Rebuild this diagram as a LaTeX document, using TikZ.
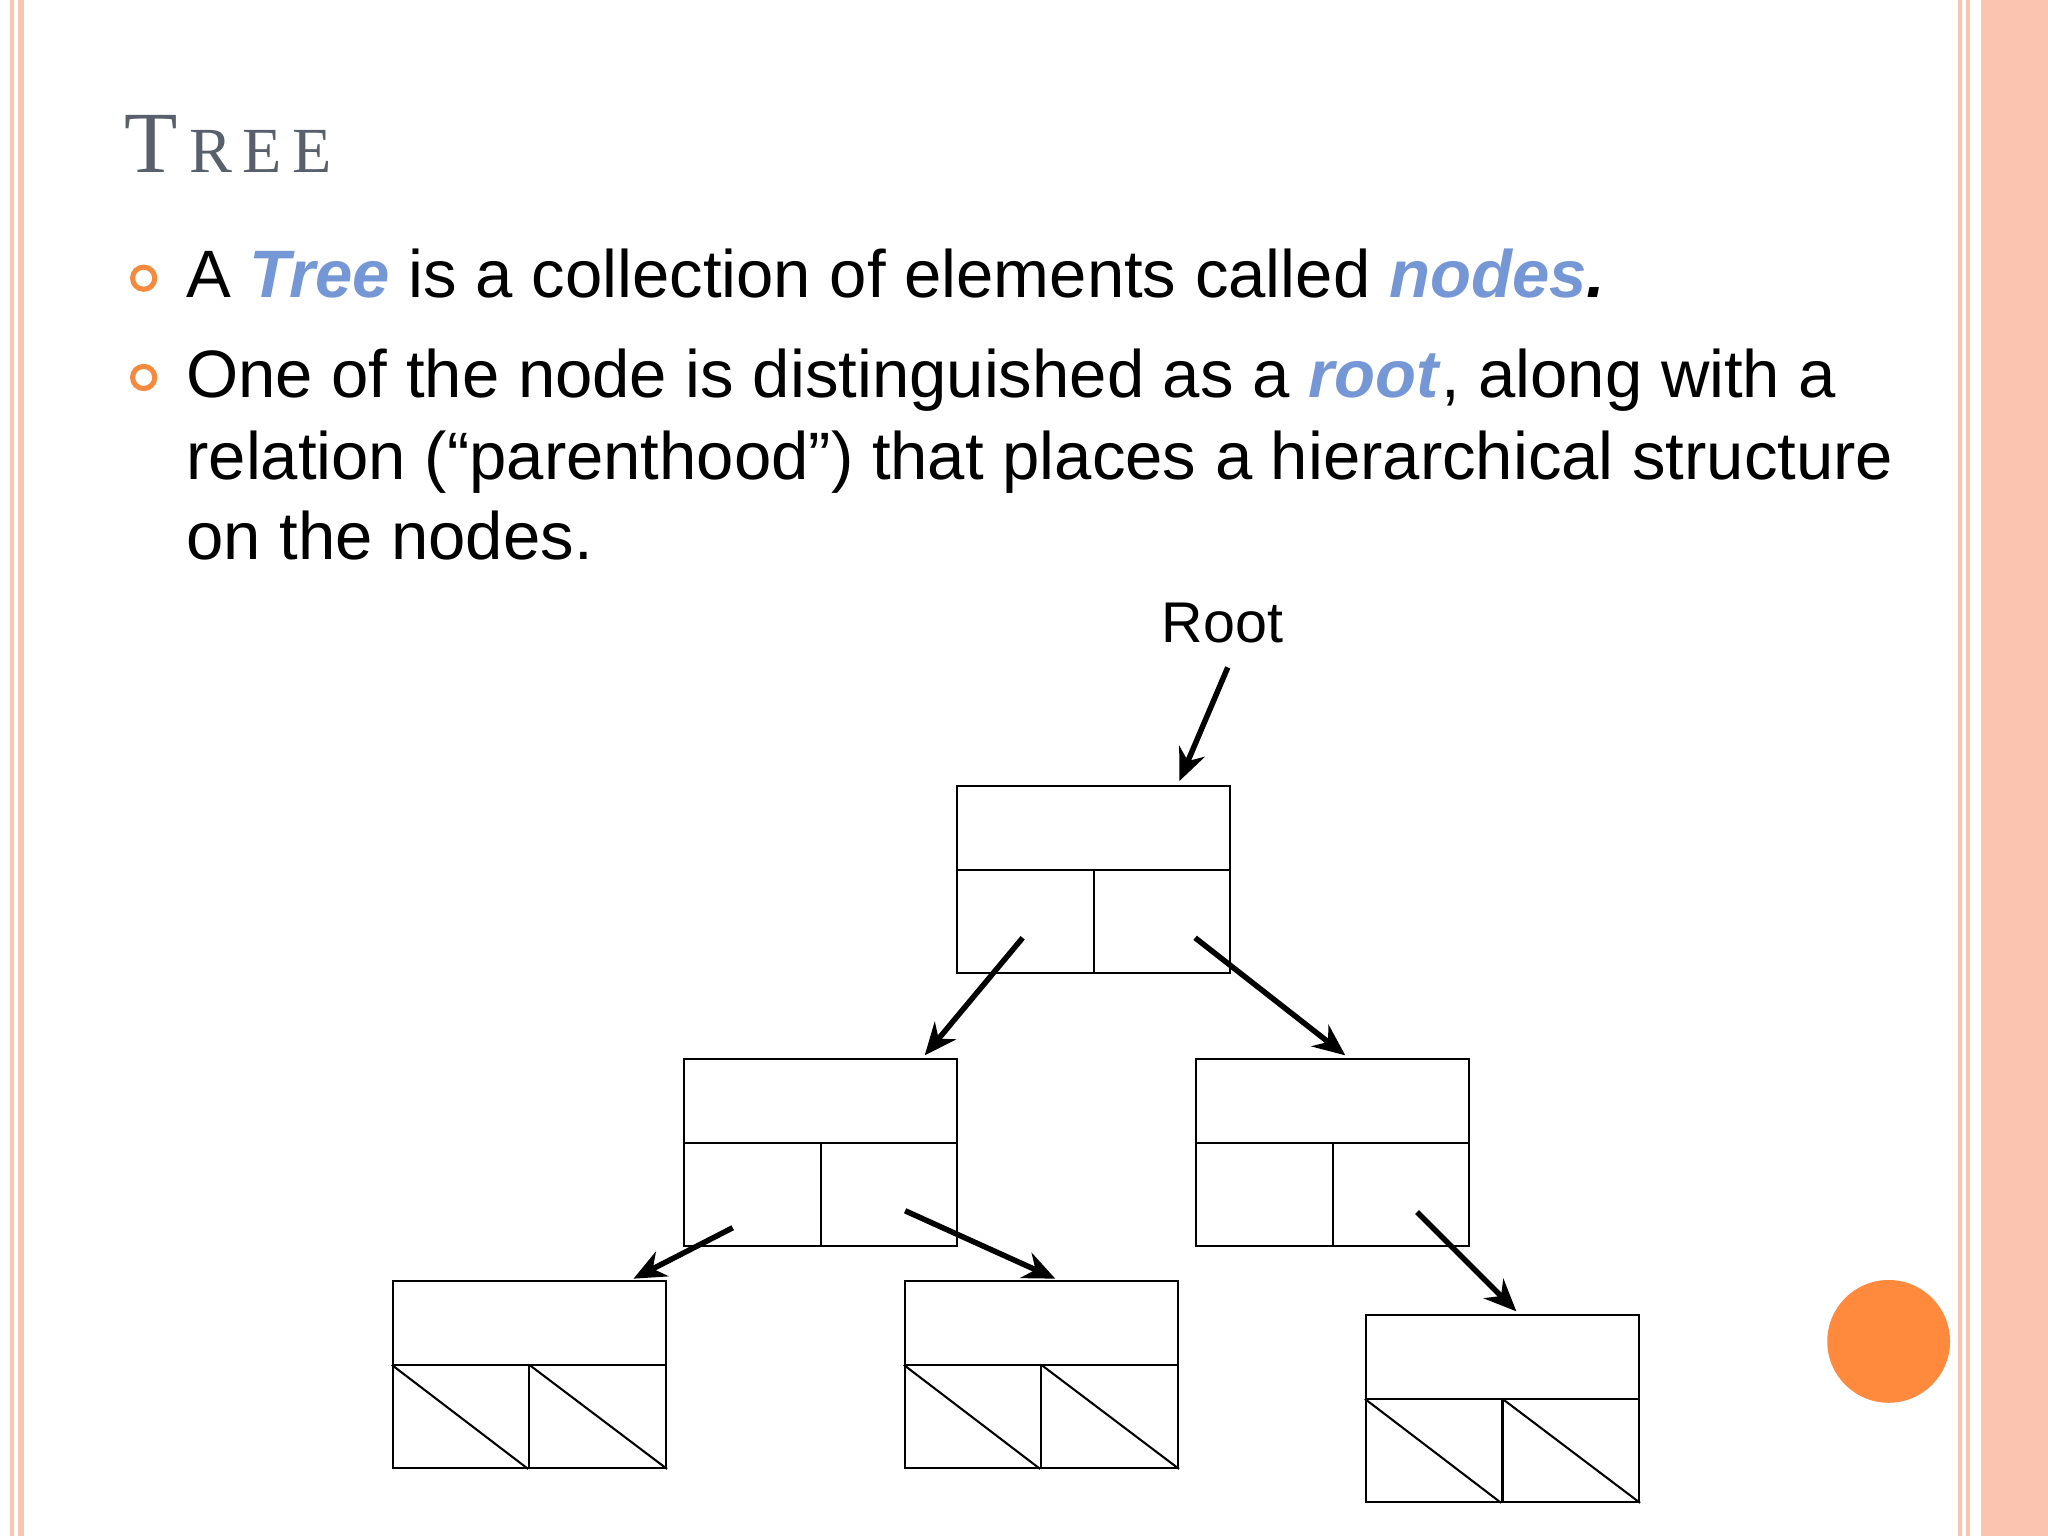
\documentclass[tikz,border=0pt]{standalone}
\usepackage{fontspec}
\setmainfont{Liberation Sans}
\newfontfamily\serifT{Liberation Serif}
\definecolor{salmon}{HTML}{FBC4B0}
\definecolor{titlegray}{HTML}{58606C}
\definecolor{kwblue}{HTML}{7597D6}
\definecolor{bulorange}{HTML}{F58A3E}
\definecolor{dotorange}{HTML}{FF8A3D}
\tikzset{
  cell/.style={draw=black,line width=0.45pt},
  link/.style={line width=1.2pt,-{Stealth[length=7pt,width=6pt]}},
  line/.style={anchor=base west,inner sep=0pt,font=\fontsize{14.6}{17}\selectfont},
  bul/.style={circle,draw=bulorange,line width=1.1pt,minimum size=0.17cm,inner sep=0pt}
}
\usetikzlibrary{arrows.meta}
% box with top-left (#2,#3); #4=1 for leaf with diagonals
\newcommand\treebox[4]{%
  \node[cell,minimum width=2.09cm,minimum height=1.43cm,anchor=north west,inner sep=0pt] (#1) at (#2,#3) {};
  \draw[cell] ([yshift=-0.65cm]#1.north west) -- ([yshift=-0.65cm]#1.north east);
  \draw[cell] ([yshift=-0.65cm]#1.north) -- (#1.south);
  \ifnum#4=1
    \draw[cell] ([yshift=-0.65cm]#1.north west) -- ([xshift=-0.01cm]#1.south);
    \draw[cell] ([yshift=-0.65cm]#1.north) -- (#1.south east);
  \fi}
\begin{document}
\begin{tikzpicture}[x=0.01cm,y=-0.01cm]
\useasboundingbox (0,0) rectangle (1568,1176);
\fill[white] (0,0) rectangle (1568,1176);
% borders
\fill[salmon] (8,0) rectangle (11,1176);
\fill[salmon] (14,0) rectangle (18,1176);
\fill[salmon] (1499,0) rectangle (1502,1176);
\fill[salmon] (1505,0) rectangle (1508,1176);
\fill[salmon] (1517,0) rectangle (1568,1176);
% title
\node[anchor=base west,inner sep=0pt,text=titlegray] (title) at (95,132) {\serifT\fontsize{19}{20}\selectfont T\fontsize{14}{16}\selectfont\,R\,E\,E};
% bullets
\node[bul] (b1) at (110,213) {};
\node[bul] (b2) at (110,289) {};
\node[line] (l1) at (142,228) {A \textcolor{kwblue}{\textbf{\textit{Tree}}} is a collection of elements called \textcolor{kwblue}{\textbf{\textit{nodes}}}\textbf{\textit{.}}};
\node[line] (l2) at (142,304) {One of the node is distinguished as a \textcolor{kwblue}{\textbf{\textit{root}}}, along with a};
\node[line] (l3) at (142,367) {relation (“parenthood”) that places a hierarchical structure};
\node[line] (l4) at (142,428) {on the nodes.};
% tree
\node[anchor=base,inner sep=0pt,font=\fontsize{12.5}{14}\selectfont] (rootlbl) at (936,492) {Root};
\treebox{r}{732}{601}{0}
\treebox{a}{523}{810}{0}
\treebox{b}{915}{810}{0}
\treebox{c}{300}{980}{1}
\treebox{d}{692}{980}{1}
\treebox{e}{1045}{1006}{1}
\coordinate (s0) at (940,511); \coordinate (t0) at (903,598);
\coordinate (s1) at (783,718); \coordinate (t1) at (708,808);
\coordinate (s2) at (915,718); \coordinate (t2) at (1030,808);
\coordinate (s3) at (561,940); \coordinate (t3) at (485,979);
\coordinate (s4) at (693,927); \coordinate (t4) at (808,979);
\coordinate (s5) at (1085,928); \coordinate (t5) at (1161,1004);
\foreach \i in {0,...,5} \draw[link] (s\i) -- (t\i);
\fill[dotorange] (1446,1027) circle (47);
\end{tikzpicture}
\end{document}
